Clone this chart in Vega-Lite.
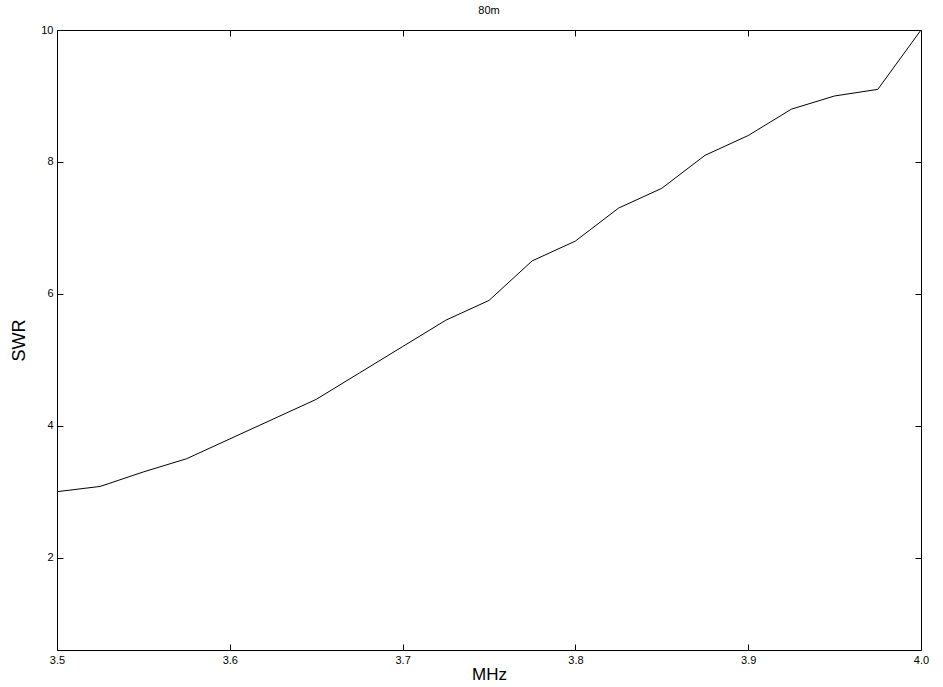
{
  "$schema": "https://vega.github.io/schema/vega-lite/v6.json",
  "width": 864,
  "height": 620,
  "autosize": {"type": "none"},
  "padding": {"left": 57, "top": 30, "right": 22, "bottom": 37},
  "background": "white",
  "title": {"text": "80m", "fontSize": 11, "font": "Liberation Sans", "fontWeight": "normal", "color": "black", "offset": 8},
  "config": {
    "view": {"stroke": "black", "strokeWidth": 1},
    "axis": {
      "domain": false,
      "grid": false,
      "tickSize": -6,
      "tickColor": "black",
      "labelFont": "Liberation Sans",
      "labelFontSize": 11,
      "labelColor": "black",
      "titleFont": "Liberation Sans",
      "titleFontWeight": "normal",
      "titleColor": "black"
    }
  },
  "data": {
    "values": [
      {"MHz": 3.5, "SWR": 3.0},
      {"MHz": 3.525, "SWR": 3.08},
      {"MHz": 3.55, "SWR": 3.3},
      {"MHz": 3.575, "SWR": 3.5},
      {"MHz": 3.6, "SWR": 3.8},
      {"MHz": 3.625, "SWR": 4.1},
      {"MHz": 3.65, "SWR": 4.4},
      {"MHz": 3.675, "SWR": 4.8},
      {"MHz": 3.7, "SWR": 5.2},
      {"MHz": 3.725, "SWR": 5.6},
      {"MHz": 3.75, "SWR": 5.9},
      {"MHz": 3.775, "SWR": 6.5},
      {"MHz": 3.8, "SWR": 6.8},
      {"MHz": 3.825, "SWR": 7.3},
      {"MHz": 3.85, "SWR": 7.6},
      {"MHz": 3.875, "SWR": 8.1},
      {"MHz": 3.9, "SWR": 8.4},
      {"MHz": 3.925, "SWR": 8.8},
      {"MHz": 3.95, "SWR": 9.0},
      {"MHz": 3.975, "SWR": 9.1},
      {"MHz": 4.0, "SWR": 10.0}
    ]
  },
  "layer": [
    {
      "mark": {"type": "line", "color": "black", "strokeWidth": 1},
      "encoding": {
        "x": {
          "field": "MHz", "type": "quantitative",
          "scale": {"domain": [3.5, 4.0], "nice": false, "zero": false},
          "axis": {"orient": "bottom", "values": [3.5, 3.6, 3.7, 3.8, 3.9, 4.0], "format": ".1f", "labelPadding": 10, "title": "MHz", "titleFontSize": 17, "titlePadding": 1, "labelFlush": false}
        },
        "y": {
          "field": "SWR", "type": "quantitative",
          "scale": {"domain": [0.6, 10], "nice": false, "zero": false},
          "axis": {"orient": "left", "values": [2, 4, 6, 8, 10], "labelPadding": 10, "title": "SWR", "titleFontSize": 18, "titlePadding": 12, "labelFlush": false}
        }
      }
    },
    {
      "mark": {"type": "line", "color": "black", "strokeWidth": 1, "opacity": 0},
      "encoding": {
        "x": {
          "field": "MHz", "type": "quantitative",
          "scale": {"domain": [3.5, 4.0], "nice": false, "zero": false},
          "axis": {"orient": "top", "values": [3.5, 3.6, 3.7, 3.8, 3.9, 4.0], "labels": false, "title": null}
        },
        "y": {
          "field": "SWR", "type": "quantitative",
          "scale": {"domain": [0.6, 10], "nice": false, "zero": false},
          "axis": {"orient": "right", "values": [2, 4, 6, 8, 10], "labels": false, "title": null}
        }
      }
    }
  ],
  "resolve": {"scale": {"x": "independent", "y": "independent"}}
}
